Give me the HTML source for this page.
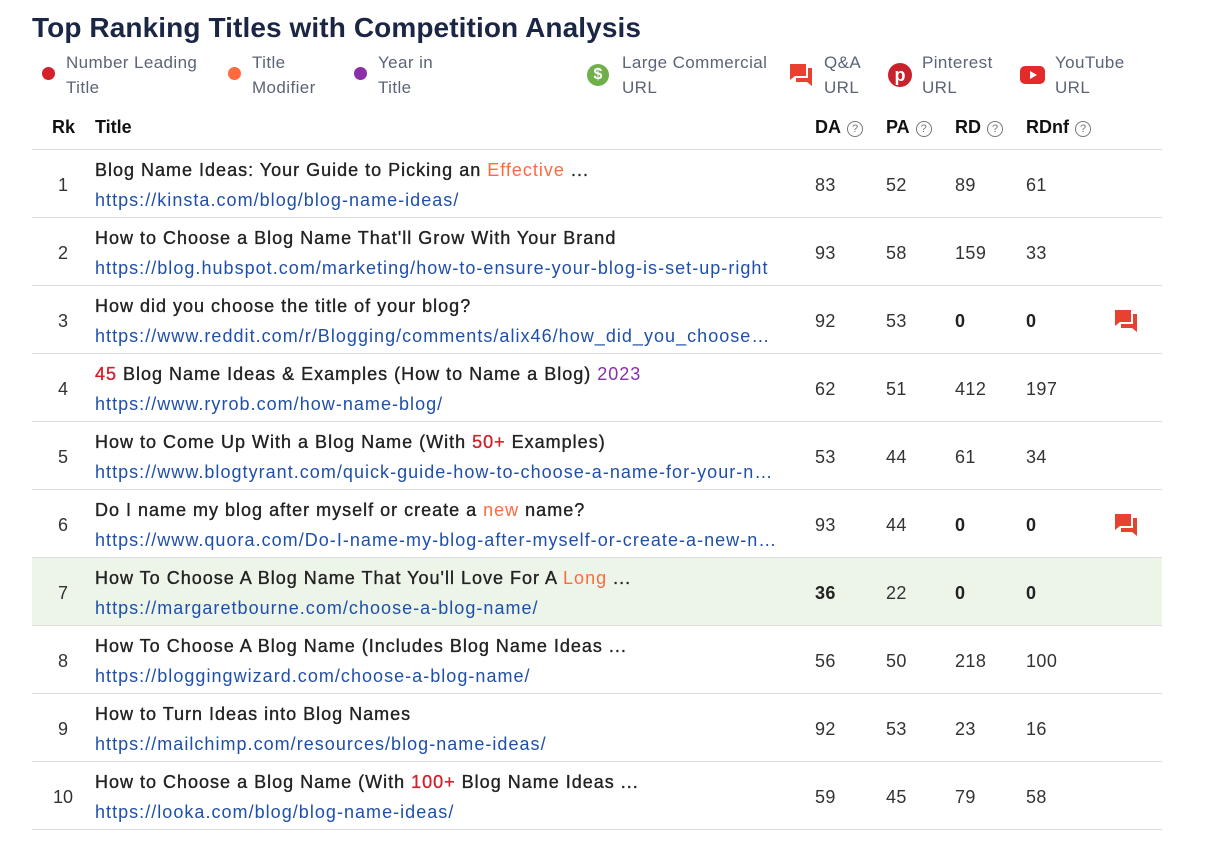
<!DOCTYPE html>
<html><head><meta charset="utf-8"><style>
body{margin:0;width:1220px;height:847px;background:#fff;font-family:"Liberation Sans",Arial,sans-serif;position:relative;overflow:hidden}
.a{position:absolute;white-space:nowrap}
h1{position:absolute;left:32px;top:12px;margin:0;font-size:28px;font-weight:bold;color:#1b2544;letter-spacing:0.1px}
.lg{position:absolute;top:50px;font-size:17px;line-height:25px;color:#5b6477;letter-spacing:0.4px}
.dot{position:absolute;width:13px;height:13px;border-radius:50%;top:67px}
.hd{position:absolute;top:117px;font-size:18px;font-weight:bold;color:#111}
.q{display:inline-block;width:14px;height:14px;border:1.4px solid #777;border-radius:50%;font-size:11px;line-height:14px;text-align:center;color:#777;font-weight:normal;vertical-align:1px;margin-left:6px}
.row{position:absolute;left:32px;width:1130px;height:67px;border-top:1px solid #ddd}
.rk{position:absolute;left:0;width:62px;text-align:center;top:25px;font-size:18px;color:#333}
.t{position:absolute;left:63px;top:10px;font-size:18px;color:#222;-webkit-text-stroke:0.35px #222;white-space:nowrap;letter-spacing:1px}
.u{position:absolute;left:63px;top:40px;width:684px;font-size:18px;color:#1f4fa8;white-space:nowrap;overflow:hidden;text-overflow:ellipsis;letter-spacing:1.03px}
.n{position:absolute;top:25px;font-size:18px;color:#333;letter-spacing:0.4px}
.b{font-weight:bold;color:#222}
.o{color:#ff6a3d;-webkit-text-stroke:0}.r{color:#d3202a;-webkit-text-stroke:0.35px #d3202a}.p{color:#8b2fa8;-webkit-text-stroke:0}
.ic{position:absolute;left:1082px;top:23px}
</style></head><body>
<h1>Top Ranking Titles with Competition Analysis</h1>
<div class="dot" style="left:42px;background:#d3202a"></div><div class="lg" style="left:66px">Number Leading<br>Title</div>
<div class="dot" style="left:228px;background:#ff6a3d"></div><div class="lg" style="left:252px">Title<br>Modifier</div>
<div class="dot" style="left:354px;background:#8b2fa8"></div><div class="lg" style="left:378px">Year in<br>Title</div>
<div style="position:absolute;left:587px;top:64px;width:22px;height:22px;border-radius:50%;background:#6fb04a;color:#fff;font-weight:bold;font-size:16px;text-align:center;line-height:22px">$</div>
<div class="lg" style="left:622px">Large Commercial<br>URL</div>
<svg class="a" style="left:789px;top:63px" width="24" height="24" viewBox="0 0 24 24"><path d="M1 1h16v12H6l-5 4z" fill="#e8412f"/><path d="M19 5h4v18l-5-4H7v-4h12z" fill="#e8412f"/></svg>
<div class="lg" style="left:824px">Q&amp;A<br>URL</div>
<div style="position:absolute;left:888px;top:63px;width:24px;height:24px;border-radius:50%;background:#c8232c;color:#fff;font-weight:bold;font-size:18px;text-align:center;line-height:24px">p</div>
<div class="lg" style="left:922px">Pinterest<br>URL</div>
<div style="position:absolute;left:1020px;top:66px;width:25px;height:18px;border-radius:5px;background:#e32b2b"><div style="position:absolute;left:10px;top:5px;border-left:7px solid #fff;border-top:4px solid transparent;border-bottom:4px solid transparent"></div></div>
<div class="lg" style="left:1055px">YouTube<br>URL</div>

<div class="hd" style="left:52px">Rk</div><div class="hd" style="left:95px">Title</div>
<div class="hd" style="left:815px">DA<span class="q">?</span></div>
<div class="hd" style="left:886px">PA<span class="q">?</span></div>
<div class="hd" style="left:955px">RD<span class="q">?</span></div>
<div class="hd" style="left:1026px">RDnf<span class="q">?</span></div>

<div class="row" style="top:149px"><div class="rk">1</div><div class="t">Blog Name Ideas: Your Guide to Picking an <span class="o">Effective</span> ...</div><div class="u">https://kinsta.com/blog/blog-name-ideas/</div><div class="n" style="left:783px">83</div><div class="n" style="left:854px">52</div><div class="n" style="left:923px">89</div><div class="n" style="left:994px">61</div></div>
<div class="row" style="top:217px"><div class="rk">2</div><div class="t">How to Choose a Blog Name That'll Grow With Your Brand</div><div class="u">https://blog.hubspot.com/marketing/how-to-ensure-your-blog-is-set-up-right</div><div class="n" style="left:783px">93</div><div class="n" style="left:854px">58</div><div class="n" style="left:923px">159</div><div class="n" style="left:994px">33</div></div>
<div class="row" style="top:285px"><div class="rk">3</div><div class="t">How did you choose the title of your blog?</div><div class="u">https://www.reddit.com/r/Blogging/comments/alix46/how_did_you_choose_the_title</div><div class="n" style="left:783px">92</div><div class="n" style="left:854px">53</div><div class="n b" style="left:923px">0</div><div class="n b" style="left:994px">0</div><svg class="ic" width="24" height="24" viewBox="0 0 24 24"><path d="M1 1h16v12H6l-5 4z" fill="#e8412f"/><path d="M19 5h4v18l-5-4H7v-4h12z" fill="#e8412f"/></svg></div>
<div class="row" style="top:353px"><div class="rk">4</div><div class="t"><span class="r">45</span> Blog Name Ideas &amp; Examples (How to Name a Blog) <span class="p">2023</span></div><div class="u">https://www.ryrob.com/how-name-blog/</div><div class="n" style="left:783px">62</div><div class="n" style="left:854px">51</div><div class="n" style="left:923px">412</div><div class="n" style="left:994px">197</div></div>
<div class="row" style="top:421px"><div class="rk">5</div><div class="t">How to Come Up With a Blog Name (With <span class="r">50+</span> Examples)</div><div class="u">https://www.blogtyrant.com/quick-guide-how-to-choose-a-name-for-your-new-blog</div><div class="n" style="left:783px">53</div><div class="n" style="left:854px">44</div><div class="n" style="left:923px">61</div><div class="n" style="left:994px">34</div></div>
<div class="row" style="top:489px"><div class="rk">6</div><div class="t">Do I name my blog after myself or create a <span class="o">new</span> name?</div><div class="u">https://www.quora.com/Do-I-name-my-blog-after-myself-or-create-a-new-name</div><div class="n" style="left:783px">93</div><div class="n" style="left:854px">44</div><div class="n b" style="left:923px">0</div><div class="n b" style="left:994px">0</div><svg class="ic" width="24" height="24" viewBox="0 0 24 24"><path d="M1 1h16v12H6l-5 4z" fill="#e8412f"/><path d="M19 5h4v18l-5-4H7v-4h12z" fill="#e8412f"/></svg></div>
<div class="row" style="top:557px;background:#edf4e8"><div class="rk">7</div><div class="t">How To Choose A Blog Name That You'll Love For A <span class="o">Long</span> ...</div><div class="u">https://margaretbourne.com/choose-a-blog-name/</div><div class="n b" style="left:783px">36</div><div class="n" style="left:854px">22</div><div class="n b" style="left:923px">0</div><div class="n b" style="left:994px">0</div></div>
<div class="row" style="top:625px"><div class="rk">8</div><div class="t">How To Choose A Blog Name (Includes Blog Name Ideas ...</div><div class="u">https://bloggingwizard.com/choose-a-blog-name/</div><div class="n" style="left:783px">56</div><div class="n" style="left:854px">50</div><div class="n" style="left:923px">218</div><div class="n" style="left:994px">100</div></div>
<div class="row" style="top:693px"><div class="rk">9</div><div class="t">How to Turn Ideas into Blog Names</div><div class="u">https://mailchimp.com/resources/blog-name-ideas/</div><div class="n" style="left:783px">92</div><div class="n" style="left:854px">53</div><div class="n" style="left:923px">23</div><div class="n" style="left:994px">16</div></div>
<div class="row" style="top:761px;border-bottom:1px solid #ddd"><div class="rk">10</div><div class="t">How to Choose a Blog Name (With <span class="r">100+</span> Blog Name Ideas ...</div><div class="u">https://looka.com/blog/blog-name-ideas/</div><div class="n" style="left:783px">59</div><div class="n" style="left:854px">45</div><div class="n" style="left:923px">79</div><div class="n" style="left:994px">58</div></div>
</body></html>
